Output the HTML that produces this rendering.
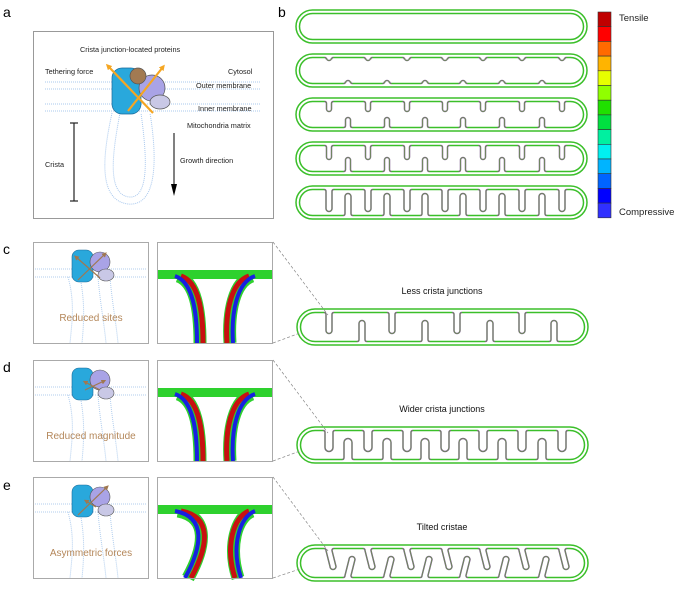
<!DOCTYPE html><html><head><style>body{margin:0;background:#fff}svg{display:block;font-family:"Liberation Sans",sans-serif}</style></head><body>
<svg id="s" width="685" height="595" viewBox="0 0 685 595" xmlns="http://www.w3.org/2000/svg">
<defs>
<marker id="oa" markerWidth="6" markerHeight="6" refX="3" refY="3" orient="auto" markerUnits="userSpaceOnUse"><path d="M0,0L6,3L0,6z" fill="#f5a623"/></marker>
<marker id="ba" markerWidth="5" markerHeight="5" refX="2.5" refY="2.5" orient="auto" markerUnits="userSpaceOnUse"><path d="M0,0L5,2.5L0,5z" fill="#a07850"/></marker>
</defs>
<g font-size="14" fill="#000">
<text x="3" y="17">a</text><text x="278" y="17">b</text>
<text x="3" y="254">c</text><text x="3" y="372">d</text><text x="3" y="490">e</text>
</g>
<rect x="33.5" y="31.5" width="240" height="187" fill="#fff" stroke="#999"/>
<g stroke="#a8c8ee" stroke-width="1" stroke-dasharray="1,1" fill="none">
<line x1="45" y1="82" x2="260" y2="82"/><line x1="45" y1="89" x2="260" y2="89"/>
<line x1="45" y1="104" x2="260" y2="104"/><line x1="45" y1="111" x2="260" y2="111"/>
<path d="M112,113 C104,150 96,200 128,204 C160,207 156,150 150,113"/>
<path d="M120,113 C113,150 106,194 129,197 C151,199 146,150 141,113"/>
</g>
<rect x="112" y="68" width="29" height="46" rx="10" fill="#29a8dc" stroke="#1a6a99" stroke-width=".7"/>
<circle cx="152" cy="88" r="13" fill="#a9a3e6" stroke="#555" stroke-width=".7"/>
<circle cx="138" cy="76" r="8" fill="#a27a52" stroke="#555" stroke-width=".7"/>
<ellipse cx="160" cy="102" rx="10" ry="7" fill="#c9c8e6" stroke="#555" stroke-width=".7"/>
<g stroke="#f5a623" stroke-width="2.2" fill="none">
<line x1="153" y1="113" x2="108" y2="66" marker-end="url(#oa)"/>
<line x1="128" y1="111" x2="163" y2="67" marker-end="url(#oa)"/>
</g>
<line x1="74" y1="123" x2="74" y2="201" stroke="#222" stroke-width="1.2"/>
<line x1="70" y1="123" x2="78" y2="123" stroke="#222" stroke-width="1.2"/><line x1="70" y1="201" x2="78" y2="201" stroke="#222" stroke-width="1.2"/>
<line x1="174" y1="133" x2="174" y2="185" stroke="#000" stroke-width="1"/><path d="M171,184L177,184L174,196z"/>
<g font-size="7.3" fill="#222">
<text x="80" y="52">Crista junction-located proteins</text>
<text x="45" y="74">Tethering force</text><text x="228" y="74">Cytosol</text>
<text x="196" y="88">Outer membrane</text><text x="198" y="111">Inner membrane</text>
<text x="187" y="128">Mitochondria matrix</text><text x="180" y="163">Growth direction</text>
<text x="45" y="167">Crista</text>
</g>
<g id="cb"></g>
<g font-size="9.5" fill="#222"><text x="619" y="21">Tensile</text><text x="619" y="215">Compressive</text></g>
<g id="caps"></g>
<g id="small"></g>
<g font-size="9" fill="#111" text-anchor="middle">
<text x="442" y="294">Less crista junctions</text>
<text x="442" y="412">Wider crista junctions</text>
<text x="442" y="530">Tilted cristae</text>
</g>
</svg>
<script>
var s=document.getElementById('s'),NS="http://www.w3.org/2000/svg";
function el(p,t,a){var e=document.createElementNS(NS,t);for(var k in a)e.setAttribute(k,a[k]);p.appendChild(e);return e;}
var cb=document.getElementById('cb');
var cols=["#c00000","#ff0000","#ff6a00","#ffb400","#e6ff00","#90ff00","#20e000","#00e040","#00f0a0","#00f0f0","#00b4ff","#0064ff","#0000ff","#3030ff"];
cols.forEach(function(c,i){el(cb,'rect',{x:598,y:12+i*14.7,width:13,height:14.7,fill:c,stroke:"#333","stroke-width":.6});});
var caps=document.getElementById('caps');
function capsule(x,y,w,h,tops,bots,d,wd,tilt){
 var g=el(caps,'g',{fill:"none"});
 el(g,'rect',{x:x,y:y,width:w,height:h,rx:h/2,stroke:"#3bbf2a","stroke-width":1.5});
 el(g,'rect',{x:x+3.5,y:y+3.5,width:w-7,height:h-7,rx:(h-7)/2,stroke:"#3bbf2a","stroke-width":1.5});
 function cr(cx,yy,dir){
  if(d<=0)return;var r=wd/2,t=tilt||0;
  var p="M"+(cx-r-2)+","+yy+" Q"+(cx-r)+","+yy+" "+(cx-r)+","+(yy+dir*2)+" L"+(cx-r+t)+","+(yy+dir*(d-r))+" A"+r+","+r+" 0 0 "+(dir>0?0:1)+" "+(cx+r+t)+","+(yy+dir*(d-r))+" L"+(cx+r)+","+(yy+dir*2)+" Q"+(cx+r)+","+yy+" "+(cx+r+2)+","+yy;
  el(g,'path',{d:"M"+(cx-r-2)+","+yy+"L"+(cx+r+2)+","+yy,stroke:"#fff","stroke-width":2.5});
  el(g,'path',{d:p,stroke:"#7a5a8a","stroke-width":1.5});
  el(g,'path',{d:p,stroke:"#6aa04a","stroke-width":.6});
 }
 tops.forEach(function(c){cr(c,y+3.5,1);});
 bots.forEach(function(c){cr(c,y+h-3.5,-1);});
}
var T=[329,368,407,445,483,522,562],B=[348,387,425,463,502,542];
capsule(296,10,291,33,[],[],0,0);
capsule(296,54,291,33,T,B,3,5);
capsule(296,98,291,33,T,B,10,5);
capsule(296,142,291,33,T,B,14,5);
capsule(296,186,291,33,T,B,22,6);
capsule(297,309,291,36,[329,392,457,522],[362,425,490,554],21,6);
capsule(297,427,291,36,[329,368,407,445,483,522,562],[348,387,425,463,502,542],21,8);
capsule(297,545,291,36,T,B,21,6,4);
var sm=document.getElementById('small');
[242,360,477].forEach(function(Y,k){
 el(sm,'rect',{x:33.5,y:Y+.5,width:115,height:101,fill:"#fff",stroke:"#aaa"});
 el(sm,'rect',{x:157.5,y:Y+.5,width:115,height:101,fill:"#fff",stroke:"#aaa"});
 var g=el(sm,'g',{stroke:"#b0cdee","stroke-width":1,"stroke-dasharray":"1,1",fill:"none"});
 [27,35].forEach(function(o){el(g,'line',{x1:35,y1:Y+o,x2:147,y2:Y+o});});
 el(g,'path',{d:"M68,"+(Y+35)+" C75,"+(Y+60)+" 72,"+(Y+80)+" 70,"+(Y+101)});
 el(g,'path',{d:"M80,"+(Y+35)+" C85,"+(Y+60)+" 84,"+(Y+80)+" 82,"+(Y+101)});
 el(g,'path',{d:"M98,"+(Y+35)+" C100,"+(Y+60)+" 104,"+(Y+80)+" 106,"+(Y+101)});
 el(g,'path',{d:"M110,"+(Y+35)+" C112,"+(Y+60)+" 116,"+(Y+80)+" 118,"+(Y+101)});
 el(sm,'rect',{x:72,y:Y+8,width:21,height:32,rx:7,fill:"#29a8dc",stroke:"#1a6a99","stroke-width":.6});
 el(sm,'circle',{cx:100,cy:Y+20,r:10,fill:"#a9a3e6",stroke:"#555","stroke-width":.6});
 el(sm,'ellipse',{cx:106,cy:Y+33,rx:8,ry:6,fill:"#c9c8e6",stroke:"#555","stroke-width":.6});
 var ag=el(sm,'g',{stroke:"#a07850","stroke-width":1.2});
 if(k==0){el(ag,'line',{x1:100,y1:Y+36,x2:76,y2:Y+15,"marker-end":"url(#ba)"});el(ag,'line',{x1:78,y1:Y+38,x2:105,y2:Y+12,"marker-end":"url(#ba)"});}
 if(k==1){el(ag,'line',{x1:100,y1:Y+30,x2:85,y2:Y+22,"marker-end":"url(#ba)"});el(ag,'line',{x1:85,y1:Y+30,x2:104,y2:Y+21,"marker-end":"url(#ba)"});}
 if(k==2){el(ag,'line',{x1:96,y1:Y+30,x2:86,y2:Y+24,"marker-end":"url(#ba)"});el(ag,'line',{x1:78,y1:Y+38,x2:107,y2:Y+10,"marker-end":"url(#ba)"});}
 var lab=["Reduced sites","Reduced magnitude","Asymmetric forces"][k];
 el(sm,'text',{x:91,y:Y+79,"font-size":10,fill:"#b4875a","text-anchor":"middle"}).textContent=lab;
 var h=el(sm,'g',{fill:"none"});
 el(h,'rect',{x:158,y:Y+28,width:114,height:9,fill:"#2ed12e"});
 var L="M178,"+(Y+34)+" C196,"+(Y+40)+" 200,"+(Y+70)+" 200,"+(Y+101);
 var R="M252,"+(Y+34)+" C234,"+(Y+40)+" 228,"+(Y+70)+" 230,"+(Y+101);
 if(k==2){L="M178,"+(Y+34)+" C210,"+(Y+40)+" 205,"+(Y+70)+" 188,"+(Y+101);R="M252,"+(Y+34)+" C236,"+(Y+40)+" 228,"+(Y+70)+" 238,"+(Y+101);}
 [[L,1],[R,-1]].forEach(function(a){
  el(h,'path',{d:a[0],stroke:"#2ed12e","stroke-width":13});
  var gg=el(h,'g',{transform:"translate("+(3*a[1])+",0)"});el(gg,'path',{d:a[0],stroke:"#c81010","stroke-width":5});
  var gb=el(h,'g',{transform:"translate("+(-3*a[1])+",0)"});el(gb,'path',{d:a[0],stroke:"#1820e0","stroke-width":4});
 });
 el(h,'rect',{x:158,y:Y+1,width:114,height:27,fill:"#fff"});
 el(sm,'rect',{x:157.5,y:Y+.5,width:115,height:101,fill:"none",stroke:"#aaa"});
 var dg=el(sm,'g',{stroke:"#888","stroke-width":.7,"stroke-dasharray":"3,2"});
 var cy=[309,427,545][k];
 el(dg,'line',{x1:273,y1:Y,x2:328,y2:cy+6});el(dg,'line',{x1:273,y1:Y+101,x2:300,y2:cy+24});
});
</script>
</body></html>
